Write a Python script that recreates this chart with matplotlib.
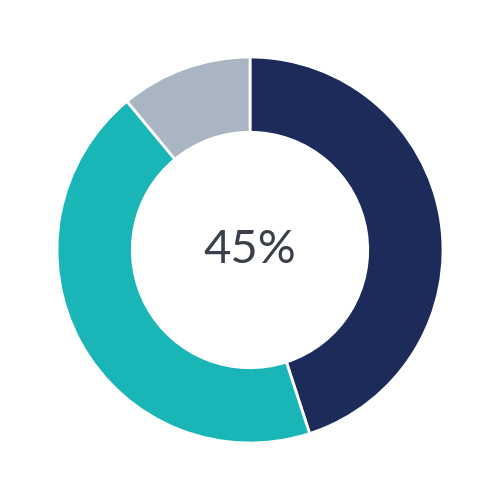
import matplotlib.pyplot as plt

# slice shares, clockwise from the top
labels = ["Navy", "Teal", "Gray"]
values = [45, 44, 11]
colors = ["#1c2b5a", "#1ab5b6", "#a9b5c3"]
center_label = "45%"

fig = plt.figure(figsize=(5, 5), dpi=100)
ax = fig.add_axes([0, 0, 1, 1])

ax.pie(values, colors=colors, startangle=90, counterclock=False, radius=1.0,
       wedgeprops=dict(width=0.39, edgecolor="white", linewidth=2))

ax.text(0, 0, center_label, ha="center", va="center", fontsize=34,
        family=["Lato", "DejaVu Sans"], color="#3a4049")

lim = 250 / 193
ax.set_xlim(-lim, lim)
ax.set_ylim(-lim, lim)
ax.set_aspect("equal")
ax.axis("off")

fig.savefig("out.png", dpi=100, facecolor="white")
